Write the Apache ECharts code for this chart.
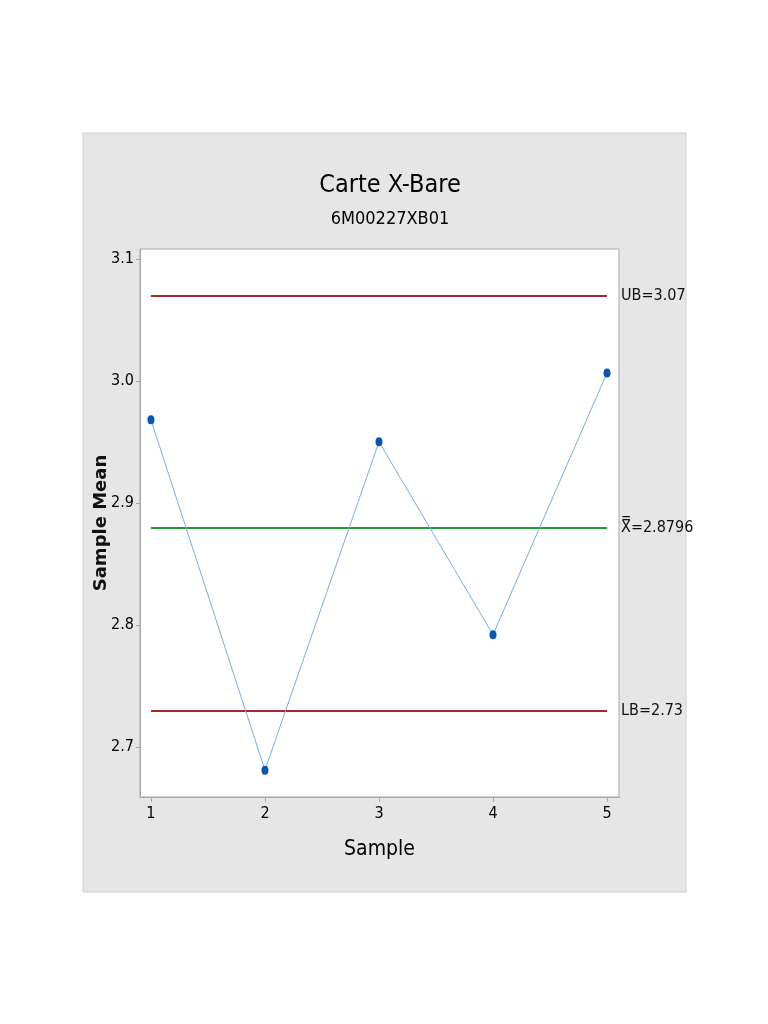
<!DOCTYPE html>
<html><head><meta charset="utf-8">
<script src="https://cdn.jsdelivr.net/npm/echarts@6/dist/echarts.min.js"></script>
<style>html,body{margin:0;padding:0;background:#fff}#c{width:768px;height:1024px}</style>
</head><body><div id="c"></div>
<script>
const samples = [1, 2, 3, 4, 5];
const sampleMeans = [2.968, 2.681, 2.950, 2.792, 3.0065];
const upperBound = 3.07;
const lowerBound = 2.73;
const centerLine = 2.8796;
const yTicks = [2.7, 2.8, 2.9, 3.0, 3.1];
const xTicks = [1, 2, 3, 4, 5];
const titleText = 'Carte X-Bare';
const subtitleText = '6M00227XB01';

const NARROW = '"Liberation Sans Narrow","DejaVu Sans Condensed","Roboto Condensed",Roboto,sans-serif';
const chart = echarts.init(document.getElementById('c'), null, {renderer: 'canvas'});

function limitLine(val, color, label) {
  return {
    silent: true, symbol: 'none',
    lineStyle: {color: color, width: 1.8, type: 'solid'},
    label: {show: true, position: 'end', distance: 14, formatter: label,
      color: '#111', fontFamily: NARROW, fontSize: 16},
    data: [[{coord: [samples[0], val]}, {coord: [samples[samples.length - 1], val]}]]
  };
}

chart.setOption({
  animation: false,
  backgroundColor: '#fff',
  graphic: [{type: 'rect', z: -10, shape: {x: 83, y: 133, width: 603, height: 759},
    style: {fill: '#e6e6e6', stroke: '#d0d0d0', lineWidth: 1}}],
  title: [
    {text: titleText, left: 385, top: 168, textAlign: 'center',
      textStyle: {fontFamily: NARROW, fontSize: 25, fontWeight: 'normal', color: '#000'}},
    {text: subtitleText, left: 385, top: 205, textAlign: 'center',
      textStyle: {fontFamily: NARROW, fontSize: 18, fontWeight: 'normal', color: '#000'}}
  ],
  grid: {left: 140, right: 149, top: 249, bottom: 227, show: true,
    backgroundColor: '#fff', borderColor: '#a8a8a8', borderWidth: 1},
  xAxis: {
    type: 'value', min: 0.904, max: 5.105,
    name: 'Sample', nameLocation: 'middle', nameGap: 42,
    nameTextStyle: {fontFamily: NARROW, fontSize: 21, color: '#000'},
    axisLine: {show: true, lineStyle: {color: '#a8a8a8'}},
    axisTick: {show: true, length: 5, customValues: xTicks, lineStyle: {color: '#a8a8a8'}},
    axisLabel: {customValues: xTicks, fontFamily: NARROW, fontSize: 16, color: '#000', margin: 9},
    splitLine: {show: false}
  },
  yAxis: {
    type: 'value', min: 2.659, max: 3.108,
    name: 'Sample Mean', nameLocation: 'middle', nameGap: 30, nameRotate: 90,
    nameMoveOverlap: false,
    nameTextStyle: {fontFamily: '"DejaVu Sans",Verdana,sans-serif', fontSize: 18, fontWeight: 'bold', color: '#111'},
    axisLine: {show: true, lineStyle: {color: '#a8a8a8'}},
    axisTick: {show: true, length: 4, customValues: yTicks, lineStyle: {color: '#a8a8a8'}},
    axisLabel: {customValues: yTicks, formatter: v => v.toFixed(1),
      fontFamily: NARROW, fontSize: 16, color: '#000', margin: 6},
    splitLine: {show: false}
  },
  series: [
    {type: 'line', data: samples.map((s, i) => [s, sampleMeans[i]]),
      symbol: 'circle', symbolSize: [7, 9],
      itemStyle: {color: '#0b55ad'}, lineStyle: {color: '#7aaee0', width: 1}, z: 5},
    {type: 'line', data: [], markLine: limitLine(upperBound, '#a8262a', 'UB=' + upperBound.toFixed(2))},
    {type: 'line', data: [], markLine: limitLine(centerLine, '#1e9a2e', 'X\u033F=' + centerLine.toFixed(4))},
    {type: 'line', data: [], markLine: limitLine(lowerBound, '#a8262a', 'LB=' + lowerBound.toFixed(2))}
  ]
});
</script></body></html>
